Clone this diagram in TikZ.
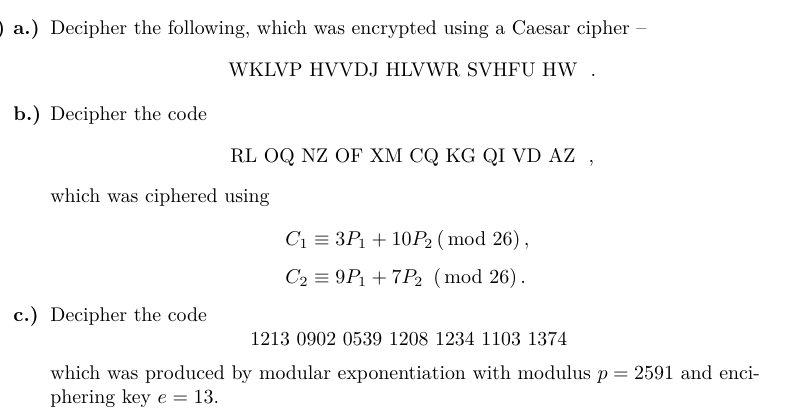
\documentclass[tikz,border=0pt]{standalone}
\usepackage{amsmath}
\begin{document}
\begin{tikzpicture}[x=0.5pt,y=-0.5pt,t/.style={anchor=base west,inner sep=0pt,font=\fontsize{9.9}{12}\selectfont}]
\useasboundingbox[fill=white] (0,0) rectangle (795,413);
\node[t] (m) at (-4,34) {\textbf{)}};
\node[t] (la) at (13,34) {\textbf{a.)}};
\node[t] (ta) at (50,34) {Decipher the following, which was encrypted using a Caesar cipher --};
\node[t] (ca) at (228,76) {WKLVP HVVDJ HLVWR SVHFU HW\ \ .};
\node[t] (lb) at (13,120) {\textbf{b.)}};
\node[t] (tb) at (50,120) {Decipher the code};
\node[t] (cb) at (230,162) {RL OQ NZ OF XM CQ KG QI VD AZ\ \ ,};
\node[t] (wb) at (50,202) {which was ciphered using};
\node[t] (e1) at (285,245) {$C_1\equiv 3P_1+10P_2\,(\,\mathrm{mod}\ 26)\,,$};
\node[t] (e2) at (285,283) {$C_2\equiv 9P_1+7P_2\ \,(\,\mathrm{mod}\ 26)\,.$};
\node[t] (lc) at (13,321) {\textbf{c.)}};
\node[t] (tc) at (50,321) {Decipher the code};
\node[t] (cc) at (250,345) {1213 0902 0539 1208 1234 1103 1374};
\node[t] (w1) at (50,379) {which was produced by modular exponentiation with modulus $p=2591$ and enci-};
\node[t] (w2) at (50,403) {phering key $e=13$.};
\end{tikzpicture}
\end{document}
